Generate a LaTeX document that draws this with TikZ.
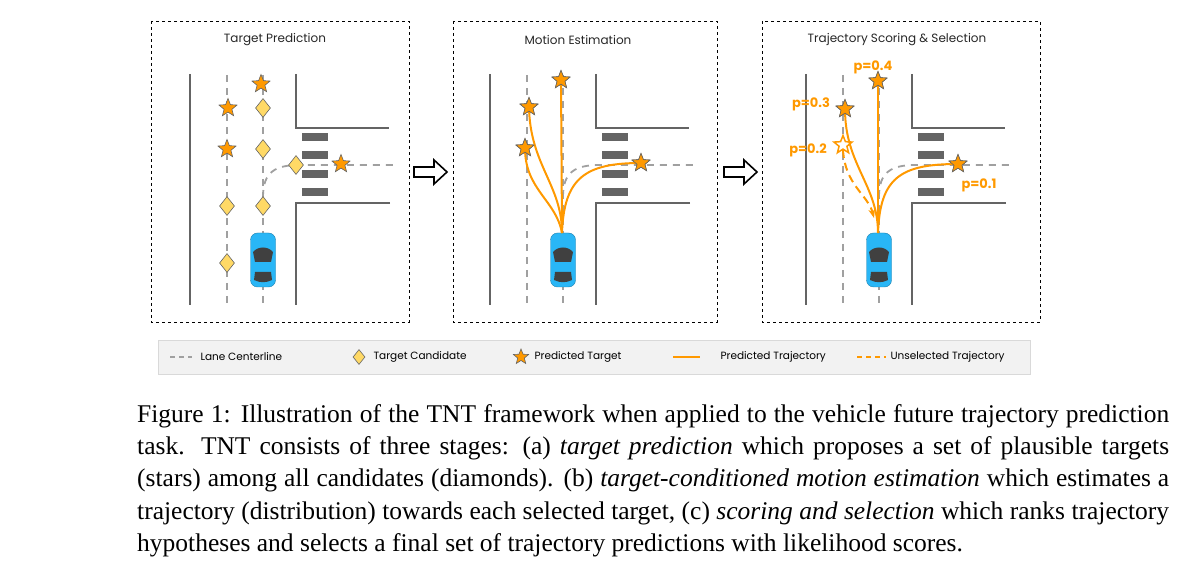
\documentclass[tikz,border=0pt]{standalone}
\usepackage{fontspec}
\setmainfont{Liberation Serif}
\newfontfamily\panelfont{Poppins}
\usetikzlibrary{shapes.geometric,arrows.meta}
\definecolor{tntorange}{RGB}{255,153,0}
\definecolor{tntyellow}{RGB}{255,217,102}
\definecolor{tntblue}{RGB}{41,182,246}
\definecolor{tntgray}{RGB}{100,100,100}
\definecolor{lanegray}{RGB}{160,160,160}
\tikzset{
  panel/.style={draw=black,dashed,line width=0.8pt},
  curb/.style={draw=tntgray,line width=2pt},
  lane/.style={draw=lanegray,line width=1.8pt,dash pattern=on 7pt off 6pt},
  bar/.style={fill=tntgray},
  tgt/.style={star,star points=5,star point ratio=2.3,minimum size=19pt,inner sep=0pt,fill=tntorange,draw=tntgray,line width=0.6pt},
  cand/.style={diamond,minimum width=15pt,minimum height=19pt,inner sep=0pt,fill=tntyellow,draw=tntgray,line width=0.6pt},
  traj/.style={draw=tntorange,line width=2pt},
  title/.style={font=\panelfont\fontsize{12}{14}\selectfont,text=black!85},
  prob/.style={font=\panelfont\bfseries\fontsize{13}{15}\selectfont,text=tntorange},
  leg/.style={font=\panelfont\fontsize{10.5}{12}\selectfont,anchor=west},
  nextstage/.style={draw=black,line width=1.6pt,fill=white,line join=miter}
}
\newcommand{\roadmap}{%
  \draw[curb] (190,74) -- (190,305);
  \draw[curb] (296,74) -- (296,128) -- (389,128);
  \draw[curb] (390,203) -- (296,203) -- (296,305);
  \foreach \yy in {137,155,174,192} \fill[bar] (302,\yy-4) rectangle (328,\yy+4);
  \draw[lane] (227,75) -- (227,305);
  \draw[lane] (263,75) -- (263,305);
  \draw[lane] (263,197) .. controls (263,172) and (275,165) .. (300,165) -- (395,165);
}
\newcommand{\carat}[1]{%
  \node[fill=tntblue,draw=tntblue!70!black,rounded corners=7pt,minimum width=25pt,minimum height=54pt,inner sep=0pt] (#1) at (263,260) {};
  \fill[black!75] (253,252) .. controls (258,246) and (268,246) .. (273,252) -- (271,262) -- (255,262) -- cycle;
  \fill[black!75] (255,272) -- (271,272) -- (272,280) .. controls (266,283) and (260,283) .. (254,280) -- cycle;
}
\newcommand{\stagearrow}[1]{%
  \draw[nextstage,shift={(#1,172)}] (-16,-5) -- (4,-5) -- (4,-12) -- (17,0) -- (4,12) -- (4,5) -- (-16,5) -- cycle;
}
\newcommand{\capline}[1]{\makebox[1032pt][s]{#1}\\}
\begin{document}
\begin{tikzpicture}[x=1pt,y=-1pt]
\useasboundingbox (0,0) rectangle (1189,577);
% panel a
\draw[panel] (151,21) rectangle (409,322);
\node[title] at (275,40) {Target Prediction};
\roadmap
\carat{cara}
\node[tgt] (a1) at (261,84) {};
\node[tgt] (a2) at (228,108) {};
\node[tgt] (a3) at (227,149) {};
\node[tgt] (a4) at (341,164) {};
\node[cand] (c1) at (263,108) {};
\node[cand] (c2) at (263,149) {};
\node[cand] (c3) at (296,165) {};
\node[cand] (c4) at (227,206) {};
\node[cand] (c5) at (263,206) {};
\node[cand] (c6) at (227,263) {};
\stagearrow{430}
% panel b
\begin{scope}[shift={(300,0)}]
\roadmap
\carat{carb}
\end{scope}
\draw[panel] (453,21) rectangle (717,322);
\node[title] at (578,40) {Motion Estimation};
\coordinate (bs) at (562,233);
\node[tgt] (b1) at (561,80) {};
\node[tgt] (b2) at (529,107) {};
\node[tgt] (b3) at (525,148) {};
\node[tgt] (b4) at (641,163) {};
\draw[traj] (bs) -- (b1);
\draw[traj] (bs) .. controls (562,185) and (530,165) .. (b2.center);
\draw[traj] (bs) .. controls (556,200) and (525,190) .. (b3.center);
\draw[traj] (bs) .. controls (564,178) and (585,163) .. (b4.center);
\node[tgt] at (561,80) {};
\node[tgt] at (529,107) {};
\node[tgt] at (525,148) {};
\node[tgt] at (641,163) {};
\stagearrow{740}
% panel c
\begin{scope}[shift={(616,0)}]
\roadmap
\carat{carc}
\end{scope}
\draw[panel] (762,21) rectangle (1040,322);
\node[title] at (897,40) {Trajectory Scoring \& Selection};
\coordinate (cs) at (878,233);
\node[tgt] (d1) at (878,81) {};
\node[tgt] (d2) at (845,109) {};
\node[tgt,fill=white,draw=tntorange,line width=1.5pt] (d3) at (843,145) {};
\node[tgt] (d4) at (958,164) {};
\draw[traj] (cs) -- (d1);
\draw[traj] (cs) .. controls (878,185) and (845,165) .. (d2.center);
\draw[traj] (cs) .. controls (880,178) and (900,164) .. (d4.center);
\draw[traj,dashed,dash pattern=on 8pt off 5pt,-{Stealth[length=9pt]}] (d3.south) .. controls (845,185) and (868,195) .. (874,218);
\node[tgt] at (878,81) {};
\node[tgt] at (845,109) {};
\node[tgt] at (958,164) {};
\node[prob] at (873,67) {p=0.4};
\node[prob] at (811,104) {p=0.3};
\node[prob] at (808,150) {p=0.2};
\node[prob] at (979,185) {p=0.1};
% legend
\draw[black!15,fill=black!5,line width=0.8pt] (158,340) rectangle (1030,374);
\coordinate (l1a) at (170,357); \coordinate (l1b) at (192,357);
\draw[lane,line width=1.3pt,dash pattern=on 5pt off 4pt] (l1a) -- (l1b);
\node[leg] at (197,357) {Lane Centerline};
\node[cand,minimum width=12pt,minimum height=15pt] (lc) at (359,357) {};
\node[leg] at (370,357) {Target Candidate};
\node[tgt,minimum size=16pt] (lt) at (521,357) {};
\node[leg] at (531,357) {Predicted Target};
\coordinate (l3a) at (673,357); \coordinate (l3b) at (700,357);
\draw[traj,line width=1.3pt] (l3a) -- (l3b);
\node[leg] at (717,357) {Predicted Trajectory};
\coordinate (l4a) at (857,357); \coordinate (l4b) at (886,357);
\draw[traj,line width=1.3pt,dash pattern=on 5pt off 4pt] (l4a) -- (l4b);
\node[leg] at (887,357) {Unselected Trajectory};
% caption
\node[anchor=north west,align=left,inner sep=0pt,font=\fontsize{25.5}{32.3}\selectfont] (cap) at (137,404) {%
\capline{Figure 1: Illustration of the TNT framework when applied to the vehicle future trajectory prediction}
\capline{task. TNT consists of three stages: (a) \textit{target prediction} which proposes a set of plausible targets}
\capline{(stars) among all candidates (diamonds). (b) \textit{target-conditioned motion estimation} which estimates a}
\capline{trajectory (distribution) towards each selected target, (c) \textit{scoring and selection} which ranks trajectory}
hypotheses and selects a final set of trajectory predictions with likelihood scores.};
\end{tikzpicture}
\end{document}
